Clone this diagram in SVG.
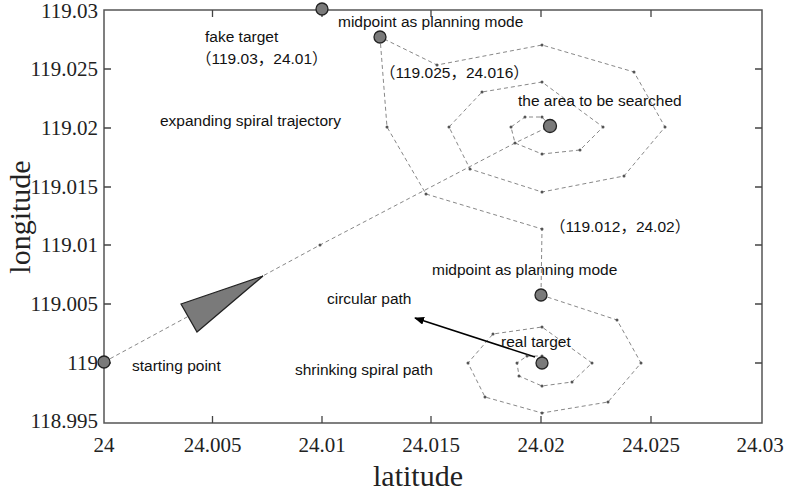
<svg xmlns="http://www.w3.org/2000/svg" width="785" height="492" viewBox="0 0 785 492">
<style>
.tk{font-family:"Liberation Serif",serif;font-size:21px;fill:#222}
.lb{font-family:"Liberation Sans",Arial,"Noto Sans CJK SC",sans-serif;font-size:15.5px;fill:#111}
.d{fill:none;stroke:#888;stroke-width:1;stroke-dasharray:4 3}
.c{fill:#7a7a7a;stroke:#222;stroke-width:1.3}
.tick{stroke:#444;stroke-width:1.3}
.ax{font-family:"Liberation Serif",serif;font-size:30px;fill:#222}
</style>
<defs>
<marker id="ah" markerWidth="10" markerHeight="8" refX="9" refY="4" orient="auto" markerUnits="userSpaceOnUse"><path d="M0,0 L10,4 L0,8 z" fill="#000"/></marker>
</defs>
<rect width="785" height="492" fill="#fff"/>
<g id="axes">
<rect x="104" y="10" width="658" height="413" fill="none" stroke="#555" stroke-width="1.5"/>
<g class="tick">
<path d="M212.5 423v-7M322 423v-7M431 423v-7M541 423v-7M651 423v-7M212.5 10v7M322 10v7M431 10v7M541 10v7M651 10v7"/>
<path d="M762 69h-7M762 128h-7M762 187h-7M762 245h-7M762 304h-7M762 363h-7M104 69h7M104 128h7M104 187h7M104 245h7M104 304h7M104 363h7"/>
</g>
<g class="tk" text-anchor="end">
<text x="98" y="18">119.03</text><text x="98" y="76">119.025</text><text x="98" y="135">119.02</text><text x="98" y="194">119.015</text><text x="98" y="252">119.01</text><text x="98" y="311">119.005</text><text x="98" y="370">119</text><text x="98" y="428">118.995</text>
</g>
<g class="tk" text-anchor="middle">
<text x="104" y="452">24</text><text x="212.5" y="452">24.005</text><text x="322" y="452">24.01</text><text x="431" y="452">24.015</text><text x="541" y="452">24.02</text><text x="651" y="452">24.025</text><text x="760" y="452">24.03</text>
</g>
<text class="ax" x="418" y="486" text-anchor="middle">latitude</text>
<text class="ax" transform="translate(30,217) rotate(-90)" text-anchor="middle">longitude</text>
</g>
<g id="connectors">
<path class="d" d="M104 362L320 245L515 143L550 126"/>
<path class="d" d="M550 126L542 117L525 117L511 127L515 143L542 154L580 150L603 127L542 82L482 92L449 127L470 169L542 192L624 176L665 127L634 72L542 45L437 65L380 37"/>
<path class="d" d="M380 37L387 127L426 194L542 229L541 295"/>
<path class="d" d="M541 295L617 320L641 363L608 402L542 413L485 397L468 363L493 334L542 327L592 363L572 382L542 386L519 376L517 363L527 356L542 356L542 363"/>
<path d="M535 357L415 318" stroke="#000" stroke-width="1.5" marker-end="url(#ah)"/>
</g>
<g id="markers" fill="#555">
<circle cx="320" cy="245" r="1.5"/><circle cx="515" cy="143" r="1.5"/><circle cx="542" cy="117" r="1.5"/><circle cx="525" cy="117" r="1.5"/><circle cx="511" cy="127" r="1.5"/><circle cx="542" cy="154" r="1.5"/><circle cx="580" cy="150" r="1.5"/><circle cx="603" cy="127" r="1.5"/><circle cx="542" cy="82" r="1.5"/><circle cx="482" cy="92" r="1.5"/><circle cx="449" cy="127" r="1.5"/><circle cx="470" cy="169" r="1.5"/><circle cx="542" cy="192" r="1.5"/><circle cx="624" cy="176" r="1.5"/><circle cx="665" cy="127" r="1.5"/><circle cx="634" cy="72" r="1.5"/><circle cx="542" cy="45" r="1.5"/><circle cx="437" cy="65" r="1.5"/><circle cx="387" cy="127" r="1.5"/><circle cx="426" cy="194" r="1.5"/><circle cx="542" cy="229" r="1.5"/>
<circle cx="617" cy="320" r="1.5"/><circle cx="641" cy="363" r="1.5"/><circle cx="608" cy="402" r="1.5"/><circle cx="542" cy="413" r="1.5"/><circle cx="485" cy="397" r="1.5"/><circle cx="468" cy="363" r="1.5"/><circle cx="493" cy="334" r="1.5"/><circle cx="542" cy="327" r="1.5"/><circle cx="592" cy="363" r="1.5"/><circle cx="572" cy="382" r="1.5"/><circle cx="542" cy="386" r="1.5"/><circle cx="519" cy="376" r="1.5"/><circle cx="517" cy="363" r="1.5"/><circle cx="527" cy="356" r="1.5"/><circle cx="542" cy="356" r="1.5"/>
</g>
<g id="uav"><polygon points="181,304 197,332 263,276" fill="#7a7a7a" stroke="#222" stroke-width="1.3"/></g>
<g id="start"><circle class="c" cx="104" cy="362" r="6"/><text class="lb" x="132" y="371">starting point</text></g>
<g id="fake"><circle class="c" cx="322" cy="9" r="6"/><text class="lb" x="205" y="42">fake target</text><text class="lb" x="196" y="64">（119.03，24.01）</text></g>
<g id="mid1"><circle class="c" cx="380" cy="37" r="6"/><text class="lb" x="338" y="27">midpoint as planning mode</text></g>
<g id="area"><circle class="c" cx="550" cy="126" r="6.5"/><text class="lb" x="518" y="106">the area to be searched</text></g>
<g id="mid2"><circle class="c" cx="541" cy="295" r="6"/><text class="lb" x="432" y="275">midpoint as planning mode</text></g>
<g id="real"><circle class="c" cx="542" cy="363" r="6"/><text class="lb" x="501" y="347">real target</text></g>
<g id="labels">
<text class="lb" x="380" y="78">（119.025，24.016）</text>
<text class="lb" x="160" y="126">expanding spiral trajectory</text>
<text class="lb" x="550" y="232">（119.012，24.02）</text>
<text class="lb" x="327" y="304">circular path</text>
<text class="lb" x="295" y="375">shrinking spiral path</text>
</g>
</svg>
